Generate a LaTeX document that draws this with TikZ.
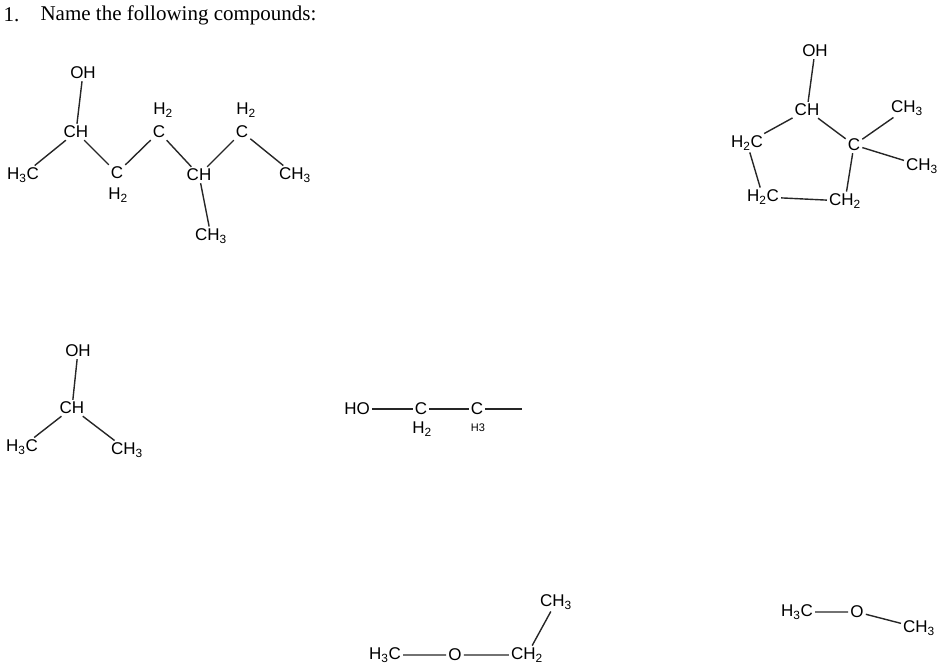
\documentclass[tikz,border=0pt]{standalone}
\usepackage{fontspec}
\setmainfont{Liberation Sans}
\newfontfamily\titlefont{Liberation Serif}
\begin{document}
\begin{tikzpicture}[x=1pt,y=-1pt,
  atm/.style={inner sep=2pt,font=\fontsize{17}{19}\selectfont},
  sm/.style={inner sep=1pt,font=\fontsize{11}{13}\selectfont},
  bd/.style={line width=1.4pt,black!85}]
\useasboundingbox (0,0) rectangle (944,669);
\node[anchor=west,font=\titlefont\fontsize{21}{24}\selectfont] (t1) at (0,15) {1.};
\node[anchor=west,font=\titlefont\fontsize{21}{24}\selectfont] (t2) at (37,15) {Name the following compounds:};
% molecule 1
\node[atm] (a1) at (83,73) {OH};
\node[atm] (a2) at (76,132) {CH};
\node[atm] (a3) at (23,175) {H\textsubscript{3}C};
\node[atm] (a4) at (117,173) {C};
\node[atm] (a4h) at (118,195) {H\textsubscript{2}};
\node[atm] (a5) at (159,132) {C};
\node[atm] (a5h) at (163,110) {H\textsubscript{2}};
\node[atm] (a6) at (199,175) {CH};
\node[atm] (a7) at (242,132) {C};
\node[atm] (a7h) at (246,110) {H\textsubscript{2}};
\node[atm] (a8) at (295,175) {CH\textsubscript{3}};
\node[atm] (a9) at (211,236) {CH\textsubscript{3}};
\draw[bd] (a1)--(a2) (a2)--(a3) (a2)--(a4) (a4)--(a5) (a5)--(a6) (a6)--(a7) (a7)--(a8) (a6)--(a9);
% molecule 2
\node[atm] (b1) at (815,51) {OH};
\node[atm] (b2) at (807,110) {CH};
\node[atm] (b3) at (747,143) {H\textsubscript{2}C};
\node[atm] (b4) at (854,145) {C};
\node[atm] (b5) at (907,108) {CH\textsubscript{3}};
\node[atm] (b6) at (922,166) {CH\textsubscript{3}};
\node[atm] (b7) at (763,197) {H\textsubscript{2}C};
\node[atm] (b8) at (845,201) {CH\textsubscript{2}};
\draw[bd] (b1)--(b2) (b2)--(b3) (b2)--(b4) (b4)--(b5) (b4)--(b6) (b3)--(b7) (b7)--(b8) (b8)--(b4);
% molecule 3
\node[atm] (c1) at (78,351) {OH};
\node[atm] (c2) at (72,408) {CH};
\node[atm] (c3) at (22,447) {H\textsubscript{3}C};
\node[atm] (c4) at (127,450) {CH\textsubscript{3}};
\draw[bd] (c1)--(c2) (c2)--(c3) (c2)--(c4);
% molecule 4
\node[atm] (d1) at (357,409) {HO};
\node[atm] (d2) at (421,409) {C};
\node[atm] (d2h) at (422,429) {H\textsubscript{2}};
\node[atm] (d3) at (477,409) {C};
\node[sm] (d3h) at (478,428) {H3};
\coordinate (d4) at (522,409);
\draw[bd] (d1)--(d2) (d2)--(d3) (d3)--(d4);
% molecule 5
\node[atm] (e1) at (385,655) {H\textsubscript{3}C};
\node[atm] (e2) at (455,655) {O};
\node[atm] (e3) at (527,655) {CH\textsubscript{2}};
\node[atm] (e4) at (556,602) {CH\textsubscript{3}};
\draw[bd] (e1)--(e2) (e2)--(e3) (e3)--(e4);
% molecule 6
\node[atm] (f1) at (797,612) {H\textsubscript{3}C};
\node[atm] (f2) at (857,612) {O};
\node[atm] (f3) at (919,628) {CH\textsubscript{3}};
\draw[bd] (f1)--(f2) (f2)--(f3);
\end{tikzpicture}
\end{document}
